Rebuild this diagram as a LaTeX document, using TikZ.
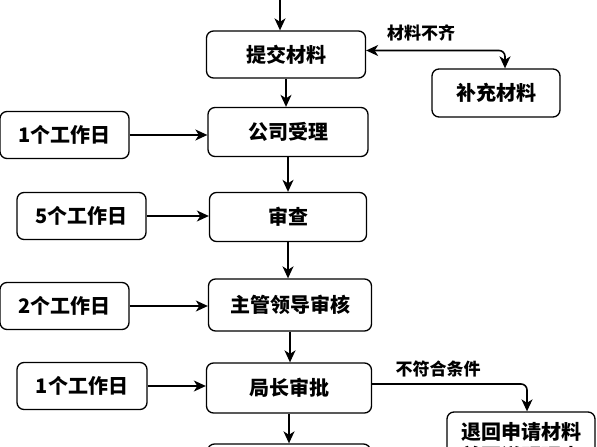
\documentclass[tikz,border=0pt]{standalone}
\usepackage{fontspec}
\setmainfont{Noto Sans CJK SC}
\usetikzlibrary{arrows.meta}
\tikzset{
  proc/.style={draw, rounded corners=7bp, line width=1.3bp, minimum width=160bp, minimum height=49bp, font=\bfseries\fontsize{20bp}{24bp}\selectfont},
  daybox/.style={proc, minimum width=129bp, minimum height=47bp},
  lbl/.style={font=\bfseries\fontsize{17bp}{20bp}\selectfont}
}
\begin{document}
\begin{tikzpicture}[x=1bp,y=-1bp,>={Stealth[length=12bp,width=11bp,inset=3.5bp]},line width=1.6bp]
\clip (0,0) rectangle (597,447);
\node[proc, minimum width=159bp, minimum height=47bp] (submit) at (286,54.5) {提交材料};
\node[proc, minimum width=128bp, minimum height=48bp] (supply) at (496,93) {补充材料};
\node[proc] (accept) at (288,132) {公司受理};
\node[proc, minimum width=157bp] (review) at (288,217) {审查};
\node[proc, minimum width=163bp, minimum height=52bp] (check) at (290,305) {主管领导审核};
\node[proc, minimum width=165bp, minimum height=50bp] (approve) at (289,388) {局长审批};
\node[proc, minimum width=163bp, minimum height=50bp] (next) at (289,469) {};
\node[proc, minimum width=148bp, minimum height=64bp, align=center] (reject) at (521,444) {退回申请材料\\并写说明理由};

\node[daybox] (d1) at (64.5,135) {1个工作日};
\node[daybox] (d5) at (81.5,216) {5个工作日};
\node[daybox] (d2) at (64.5,306) {2个工作日};
\node[daybox, minimum width=130bp] (d1b) at (82,386) {1个工作日};

\node[lbl] (lack) at (421,33) {材料不齐};
\node[lbl] (unfit) at (438,369) {不符合条件};

\coordinate (start) at (280,0);
\draw[->] (start) -- (start |- submit.north);
\foreach \a/\b in {submit/accept, accept/review, review/check, check/approve, approve/next}
{
    \draw[->] (\a.south) -- (\a.south |- \b.north);
}
\foreach \a/\b in {d1/accept, d5/review, d2/check, d1b/approve}
{
    \draw[->] (\a.east) -- (\a.east -| \b.west);
}
\draw[<->, rounded corners=6bp] ([yshift=4bp]submit.east) -| ([xshift=9bp]supply.north);
\draw[->, rounded corners=6bp] ([yshift=4bp]approve.east) -| ([xshift=6bp]reject.north);
\end{tikzpicture}
\end{document}
